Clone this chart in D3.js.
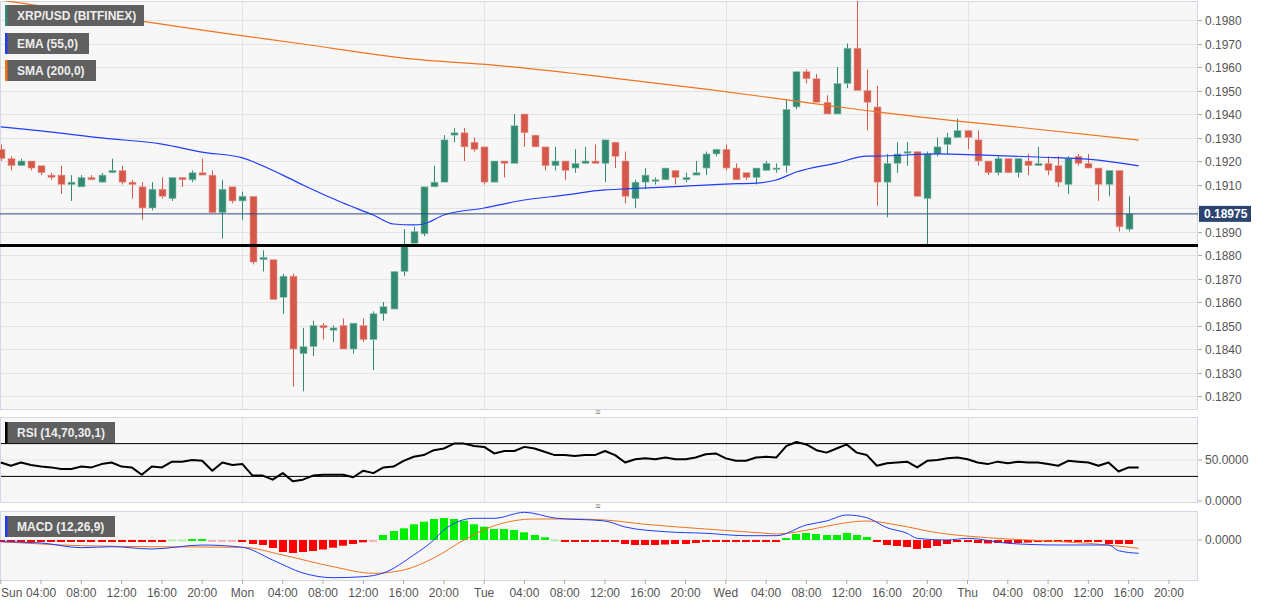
<!DOCTYPE html>
<html><head><meta charset="utf-8">
<script src="https://cdn.jsdelivr.net/npm/d3@7"></script>
<style>body{margin:0;background:#fff;font-family:Arial,"Liberation Sans",sans-serif}</style>
</head><body><div id="chart"></div>
<script>
// hourly candles, index 0 = Sun 00:00
var opens = [.1925,.1921,.1918,.1920,.1918,.1914,.1914,.1910,.1909,.1913,
 .1911,.1915,.1916,.1911,.1909,.1900,.1908,.1904,.1913,.1912,
 .1915,.1914,.1898,.1909,.1903,.1905,.1878,.1878,.1862,.1871,
 .1838,.1841,.1850,.1848,.1850,.1840,.1850,.1844,.1855,.1857,
 .1873,.1885,.1889,.1909,.1911,.1931,.1932,.1928,.1926,.1911,
 .1920,.1919,.1940,.1931,.1926,.1918,.1920,.1917,.1919,.1920,
 .1919,.1928,.1920,.1904,.1911,.1912,.1912,.1916,.1912,.1914,
 .1917,.1923,.1925,.1917,.1915,.1913,.1916,.1917,.1918,.1943,
 .1958,.1955,.1945,.1940,.1953,.1968,.1950,.1943,.1911,.1919,
 .1924,.1924,.1904,.1923,.1927,.1930,.1933,.1929,.1920,.1915,
 .1921,.1915,.1920,.1918,.1919,.1918,.1910,.1922,.1919,.1917,
 .1910,.1916,.1891];
var highs = [.1927,.1922,.1921,.1920,.1918,.1915,.1918,.1914,.1914,.1914,
 .1915,.1921,.1918,.1912,.1911,.1911,.1913,.1913,.1913,.1916,
 .1921,.1916,.1912,.1909,.1907,.1905,.1882,.1878,.1872,.1872,
 .1849,.1852,.1851,.1850,.1853,.1851,.1853,.1856,.1860,.1873,
 .1891,.1892,.1909,.1918,.1931,.1934,.1934,.1930,.1926,.1920,
 .1920,.1940,.1940,.1931,.1926,.1926,.1920,.1925,.1926,.1927,
 .1929,.1928,.1924,.1912,.1917,.1913,.1917,.1916,.1915,.1920,
 .1924,.1925,.1927,.1919,.1915,.1917,.1920,.1919,.1946,.1958,
 .1959,.1957,.1948,.1960,.1970,.1989,.1959,.1952,.1923,.1928,
 .1928,.1924,.1924,.1930,.1932,.1938,.1933,.1933,.1920,.1922,
 .1921,.1921,.1923,.1926,.1922,.1922,.1922,.1923,.1923,.1917,
 .1916,.1916,.1905];
var lows = [.1920,.1916,.1918,.1916,.1914,.1912,.1906,.1903,.1909,.1912,
 .1911,.1915,.1910,.1904,.1895,.1899,.1904,.1903,.1909,.1911,
 .1914,.1898,.1887,.1902,.1895,.1876,.1873,.1861,.1855,.1824,
 .1822,.1837,.1844,.1843,.1840,.1838,.1843,.1831,.1852,.1857,
 .1871,.1885,.1888,.1909,.1911,.1928,.1920,.1924,.1910,.1911,
 .1913,.1919,.1926,.1926,.1916,.1916,.1912,.1915,.1919,.1919,
 .1911,.1917,.1902,.1900,.1908,.1910,.1912,.1910,.1911,.1914,
 .1914,.1922,.1916,.1912,.1912,.1910,.1916,.1915,.1915,.1942,
 .1953,.1945,.1940,.1940,.1951,.1950,.1933,.1901,.1896,.1915,
 .1918,.1905,.1884,.1922,.1923,.1930,.1925,.1918,.1914,.1914,
 .1915,.1913,.1914,.1918,.1914,.1909,.1906,.1918,.1917,.1903,
 .1905,.1890,.1890];
var closes = [.1921,.1918,.1920,.1917,.1915,.1913,.1910,.1911,.1913,.1912,
 .1914,.1916,.1911,.1910,.1900,.1908,.1905,.1913,.1912,.1915,
 .1914,.1898,.1908,.1903,.1905,.1877,.1879,.1861,.1871,.1840,
 .1841,.1850,.1849,.1849,.1840,.1851,.1844,.1855,.1858,.1873,
 .1884,.1890,.1909,.1911,.1929,.1932,.1926,.1925,.1911,.1920,
 .1919,.1935,.1932,.1926,.1918,.1920,.1916,.1919,.1920,.1919,
 .1929,.1922,.1905,.1911,.1914,.1912,.1917,.1913,.1913,.1915,
 .1923,.1925,.1917,.1912,.1913,.1917,.1919,.1917,.1942,.1958,
 .1955,.1945,.1940,.1953,.1968,.1950,.1945,.1911,.1919,.1923,
 .1924,.1905,.1923,.1926,.1930,.1933,.1930,.1920,.1915,.1921,
 .1915,.1921,.1918,.1919,.1916,.1911,.1921,.1919,.1917,.1910,
 .1916,.1892,.18975];

var emaIdx = [0,4,10,16,20,24,28,30,34,37,39,41,42,44,48,52,56,60,62,66,72,75,77,79,83,86,87,93,97,103,109,113];
var emaVal = [.19345,.19328,.19298,.19272,.19238,.19213,.19140,.19098,.19021,.18970,.18932,.18928,.18932,.18970,.19000,.19034,.19055,.19077,.19081,.19089,.19102,.19106,.19119,.19153,.19191,.19221,.19221,.19230,.19226,.19217,.19204,.19179];
var smaIdx = [0,10,20,30,40,50,60,70,79,87,95,99,113];
var smaVal = [.19885,.19821,.19757,.19698,.19638,.19604,.19557,.19506,.19455,.19409,.19370,.19353,.19289];

var lastPrice = 0.18975;
var supportLevel = 0.1884;
var priceTicks = [.1820,.1830,.1840,.1850,.1860,.1870,.1880,.1890,.1900,.1910,.1920,.1930,.1940,.1950,.1960,.1970,.1980];

var rsi = [47,43,47,44,42,41,39,39,42,41,
 45,47,42,41,32,42,41,48,48,50,
 49,37,47,44,45,31,31,26,34,24,
 26,31,32,32,32,29,37,34,41,42,
 49,54,56,62,64,70,70,67,66,58,
 61,61,66,64,60,56,56,55,56,56,
 61,56,47,51,52,51,53,51,51,53,
 57,58,52,49,49,53,54,53,67,72,
 69,62,59,64,69,59,56,43,46,47,
 48,41,49,50,52,53,51,47,45,48,
 46,48,47,47,45,43,49,48,47,43,
 47,36,41,41];

// MACD values in units of 1e-5
var macdIdx = [0,4,8,11,15,20,24,27,30,33,36,38,41,43,44,47,49,52,55,60,62,66,70,74,77,80,82,84,86,88,90,91,94,96,100,105,110,111,113];
var macdVal = [-1.7,-3,-7.7,-6.7,-9,-5,-7.3,-20,-33,-37.7,-36.7,-33,-15,0,10,21.7,21.7,27.7,22,19,13,8.3,6.7,4.3,4.3,15,19,25,22.3,12.3,6.7,1.7,0,1.7,-3.3,-5,-5,-10.7,-13.3];
var signalIdx = [0,8,15,24,28,33,37,40,43,46,49,53,57,60,64,70,76,77,81,83,86,89,93,98,102,108,113];
var signalVal = [-1.7,-5.7,-6.7,-7.3,-15,-26.7,-33.3,-30,-18,0,14.3,21,21,20,15.7,11,6.7,6,11.7,15.7,19,15,7.3,2.3,0,-3.3,-8.3];
var hist = [-2,-2,-2,-2,-2,-2,-2,-2,-2,-2,-2,-1.5,-1.5,-1.5,-1.5,-1,-1,0.5,0.5,1,
 1,-0.5,-0.5,-0.5,-1,-4,-5,-8,-12,-13,-12,-11,-9.5,-7.7,-5.7,-4,-2.3,-0.5,5,9,
 11.7,15.7,18.3,21,22,21,19.3,15.7,13.3,11,11,10,7.7,5,2.7,0.5,-1,-1.5,-1.5,-1,
 -1,-1,-4,-5,-5,-5,-4.5,-4,-4,-3,-1.5,-1,-1,-1,-1,-1,-1,-1,2,6,
 7,6,5,5,7,5,3,-2,-5,-6,-7,-9,-8,-6,-4,-2,-2,-3,-3.5,-3,
 -3,-3,-2.5,-2,-2,-2,-1,-1,-1,-1,-4,-4,-4];

var dayLabels = ["Sun","Mon","Tue","Wed","Thu"];

var W = 1269, H = 606, R = 1198;
var svg = d3.select("#chart").append("svg").attr("width", W).attr("height", H);

var x = d3.scaleLinear().domain([0, 116]).range([0.8, 0.8 + 116 * 10.07]);
var y = d3.scaleLinear().domain([0.1980, 0.1820]).range([20, 396]);
var yR = d3.scaleLinear().domain([0, 100]).range([501, 419]);
var yM = d3.scaleLinear().domain([0, 10]).range([540, 530]);

var panels = [[1, 409], [417, 502], [511, 580]];
panels.forEach(function (p, k) {
  svg.append("clipPath").attr("id", "clip" + k).append("rect")
    .attr("x", 0).attr("y", p[0]).attr("width", R).attr("height", p[1] - p[0]);
  svg.append("rect").attr("x", 0.5).attr("y", p[0] + 0.5).attr("width", R - 1).attr("height", p[1] - p[0])
    .attr("fill", "#f7f7f7").attr("stroke", "#d3d7e3");
  // day grid
  [24, 48, 72, 96].forEach(function (h) {
    svg.append("line").attr("x1", Math.round(x(h)) + 0.5).attr("x2", Math.round(x(h)) + 0.5)
      .attr("y1", p[0] + 1).attr("y2", p[1]).attr("stroke", "#e4e4e4");
  });
  if (k > 0) {
    svg.append("text").attr("x", 598).attr("y", p[0] - 2).attr("font-size", 9).attr("fill", "#777")
      .attr("text-anchor", "middle").text("\u2261");
  }
});

// price grid + axis
priceTicks.forEach(function (t) {
  var yy = Math.round(y(t)) + 0.5;
  svg.append("line").attr("x1", 1).attr("x2", R).attr("y1", yy).attr("y2", yy).attr("stroke", "#e4e4e4");
  svg.append("line").attr("x1", R).attr("x2", R + 4).attr("y1", yy).attr("y2", yy).attr("stroke", "#aaa");
  if (Math.abs(yy - y(lastPrice)) > 13) {
    svg.append("text").attr("x", R + 7).attr("y", yy + 4).attr("font-size", 12).attr("fill", "#555").text(t.toFixed(4));
  }
});

var gMain = svg.append("g").attr("clip-path", "url(#clip0)");

var idx = d3.range(closes.length);
gMain.selectAll("line.wick").data(idx).enter().append("line")
  .attr("x1", function (i) { return Math.round(x(i)) + 0.5; })
  .attr("x2", function (i) { return Math.round(x(i)) + 0.5; })
  .attr("y1", function (i) { return y(highs[i]); })
  .attr("y2", function (i) { return y(lows[i]); })
  .attr("stroke", function (i) { return closes[i] >= opens[i] ? "#338a73" : "#d5584a"; });
gMain.selectAll("rect.body").data(idx).enter().append("rect")
  .attr("x", function (i) { return Math.round(x(i)) - 3; })
  .attr("width", 7)
  .attr("y", function (i) { return y(Math.max(opens[i], closes[i])); })
  .attr("height", function (i) { return Math.max(1.5, Math.abs(y(opens[i]) - y(closes[i]))); })
  .attr("fill", function (i) { return closes[i] >= opens[i] ? "#338a73" : "#d5584a"; })
  .attr("stroke", function (i) { return closes[i] >= opens[i] ? "#8fc3b3" : "#eaa49c"; })
  .attr("stroke-width", 0.6);

var line = d3.line().curve(d3.curveMonotoneX);
gMain.append("path").attr("d", line(smaIdx.map(function (d, k) { return [x(d), y(smaVal[k])]; })))
  .attr("fill", "none").attr("stroke", "#f0731e").attr("stroke-width", 1.2);
gMain.append("path").attr("d", line(emaIdx.map(function (d, k) { return [x(d), y(emaVal[k])]; })))
  .attr("fill", "none").attr("stroke", "#1f3dfa").attr("stroke-width", 1.2);

gMain.append("line").attr("x1", 0).attr("x2", R).attr("y1", y(lastPrice)).attr("y2", y(lastPrice))
  .attr("stroke", "#2c4a7c").attr("stroke-width", 1);
gMain.append("line").attr("x1", 0).attr("x2", R).attr("y1", y(supportLevel)).attr("y2", y(supportLevel))
  .attr("stroke", "#000").attr("stroke-width", 3);

svg.append("rect").attr("x", R + 1).attr("y", y(lastPrice) - 8).attr("width", 52).attr("height", 16)
  .attr("fill", "#2c4570");
svg.append("text").attr("x", R + 6).attr("y", y(lastPrice) + 4).attr("font-size", 12).attr("font-weight", "bold")
  .attr("fill", "#fff").text(lastPrice.toFixed(5));

// RSI
[70, 30].forEach(function (v) {
  svg.append("line").attr("x1", 1).attr("x2", R).attr("y1", yR(v)).attr("y2", yR(v)).attr("stroke", "#000");
});
svg.append("line").attr("x1", 1).attr("x2", R).attr("y1", yR(50)).attr("y2", yR(50)).attr("stroke", "#e4e4e4");
[[50, "50.0000"], [0, "0.0000"]].forEach(function (t) {
  svg.append("line").attr("x1", R).attr("x2", R + 4).attr("y1", yR(t[0])).attr("y2", yR(t[0])).attr("stroke", "#aaa");
  svg.append("text").attr("x", R + 7).attr("y", yR(t[0]) + 4).attr("font-size", 12).attr("fill", "#555").text(t[1]);
});
svg.append("g").attr("clip-path", "url(#clip1)").append("path")
  .attr("d", d3.line()(rsi.map(function (v, i) { return [x(i), yR(v)]; })))
  .attr("fill", "none").attr("stroke", "#000").attr("stroke-width", 2).attr("stroke-linejoin", "round");

// MACD
var gM = svg.append("g").attr("clip-path", "url(#clip2)");
gM.append("line").attr("x1", 1).attr("x2", R).attr("y1", yM(0)).attr("y2", yM(0)).attr("stroke", "#e4e4e4");
gM.selectAll("rect.h").data(hist).enter().append("rect")
  .attr("x", function (v, i) { return Math.round(x(i)) - 4; })
  .attr("width", 8)
  .attr("y", function (v) { return v > 0 ? yM(v) : yM(0); })
  .attr("height", function (v) { return Math.max(2, Math.abs(yM(v) - yM(0))); })
  .attr("fill", function (v) { return v > 0 ? "#00ee00" : "#ff0000"; })
  .attr("opacity", function (v) { return Math.abs(v) < 0.8 ? 0.25 : 1; });
gM.append("path").attr("d", line(signalIdx.map(function (d, k) { return [x(d), yM(signalVal[k])]; })))
  .attr("fill", "none").attr("stroke", "#f0731e").attr("stroke-width", 1);
gM.append("path").attr("d", line(macdIdx.map(function (d, k) { return [x(d), yM(macdVal[k])]; })))
  .attr("fill", "none").attr("stroke", "#1f3dfa").attr("stroke-width", 1);
svg.append("line").attr("x1", R).attr("x2", R + 4).attr("y1", yM(0)).attr("y2", yM(0)).attr("stroke", "#aaa");
svg.append("text").attr("x", R + 7).attr("y", yM(0) + 4).attr("font-size", 12).attr("fill", "#555").text("0.0000");

// time axis
d3.range(0, 117, 4).forEach(function (h) {
  var lbl = h % 24 === 0 ? dayLabels[h / 24] : d3.format("02")(h % 24) + ":00";
  svg.append("line").attr("x1", x(h)).attr("x2", x(h)).attr("y1", 580).attr("y2", 584).attr("stroke", "#aaa");
  svg.append("text").attr("x", h === 0 ? 1 : x(h)).attr("y", 597).attr("font-size", 12).attr("fill", "#555")
    .attr("text-anchor", h === 0 ? "start" : "middle").text(lbl);
});

// legend tags
var tags = [
  [5, 5, 139, "XRP/USD (BITFINEX)", "#338a73"],
  [5, 33, 84, "EMA (55,0)", "#1f3dfa"],
  [5, 60, 91, "SMA (200,0)", "#f0731e"],
  [5, 422, 110, "RSI (14,70,30,1)", "#000"],
  [5, 516, 110, "MACD (12,26,9)", "#1f3dfa"]
];
tags.forEach(function (t) {
  svg.append("rect").attr("x", t[0]).attr("y", t[1]).attr("width", t[2]).attr("height", 21).attr("fill", "#606060");
  svg.append("rect").attr("x", t[0]).attr("y", t[1]).attr("width", 2.5).attr("height", 21).attr("fill", t[4]);
  svg.append("text").attr("x", t[0] + 12).attr("y", t[1] + 15).attr("font-size", 12).attr("font-weight", "bold")
    .attr("fill", "#eee").text(t[3]);
});
</script></body></html>
